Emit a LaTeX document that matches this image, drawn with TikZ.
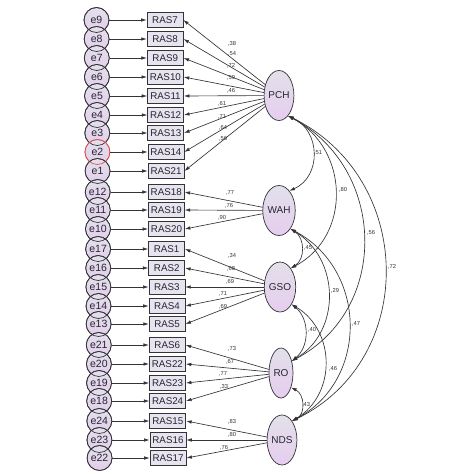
\documentclass[tikz,border=0pt]{standalone}
\usepackage{fontspec}
\setmainfont{Liberation Sans}
\usetikzlibrary{arrows.meta,shapes.geometric}
\definecolor{lineC}{HTML}{333338}
\definecolor{txtC}{HTML}{26262F}
\definecolor{boxC}{HTML}{E7E3EF}
\definecolor{errTop}{HTML}{E4E0EC}
\definecolor{errBot}{HTML}{E2CDEB}
\definecolor{latTop}{HTML}{E2E0EA}
\definecolor{latBot}{HTML}{E6CDEE}
\definecolor{labC}{HTML}{333333}
\definecolor{redC}{HTML}{D9534F}
\begin{document}
\begin{tikzpicture}[x=1pt,y=1pt,
  err/.style={circle, draw=lineC, line width=0.7pt, minimum size=25pt, inner sep=0pt,
    top color=errTop, bottom color=errBot, text=txtC, font=\fontsize{10.5}{12}\selectfont},
  errred/.style={err, draw=redC},
  obs/.style={rectangle, draw=lineC, line width=0.7pt, minimum width=36pt, minimum height=14.5pt,
    inner sep=0pt, fill=boxC, text=txtC, font=\fontsize{9.8}{11}\selectfont},
  lat/.style={ellipse, draw=lineC, line width=0.7pt, minimum width=24pt, minimum height=50pt,
    inner sep=0pt, top color=latTop, bottom color=latBot, text=txtC, font=\fontsize{10}{12}\selectfont},
  arr/.style={-{Latex[length=5.5pt,width=3.5pt]}, line width=0.65pt, draw=lineC},
  corr/.style={{Latex[length=5.5pt,width=3.5pt]}-{Latex[length=5.5pt,width=3.5pt]}, line width=0.65pt, draw=lineC},
  lab/.style={font=\fontsize{5.8}{6}\selectfont, inner sep=0pt, text=labC}]
\useasboundingbox (0,0) rectangle (474,-474);
\fill[white] (0,0) rectangle (474,-474);

% observed variables and their errors
\foreach \e/\r/\y/\s in {e9/RAS7/20/err, e8/RAS8/39/err, e7/RAS9/58/err, e6/RAS10/77/err,
  e5/RAS11/96/err, e4/RAS12/115/err, e3/RAS13/133/err, e2/RAS14/152/errred, e1/RAS21/171/err,
  e12/RAS18/192/err, e11/RAS19/210/err, e10/RAS20/229/err,
  e17/RAS1/249/err, e16/RAS2/268/err, e15/RAS3/287/err, e14/RAS4/306/err, e13/RAS5/324/err,
  e21/RAS6/345/err, e20/RAS22/364/err, e19/RAS23/383/err, e18/RAS24/401/err,
  e24/RAS15/421/err, e23/RAS16/440/err, e22/RAS17/458/err}{
  \pgfmathsetmacro\dx{0.007*(\y-20)}
  \node[\s] (\e) at (96.5+\dx,-\y) {\e};
  \node[obs] (\r) at (165+\dx,-\y) {\r};
}
% outlines again so that overlapping circles both show
\foreach \e/\c in {e9/lineC, e8/lineC, e7/lineC, e6/lineC, e5/lineC, e4/lineC, e3/lineC,
  e2/redC, e1/lineC, e12/lineC, e11/lineC, e10/lineC, e17/lineC, e16/lineC, e15/lineC,
  e14/lineC, e13/lineC, e21/lineC, e20/lineC, e19/lineC, e18/lineC, e24/lineC, e23/lineC, e22/lineC}{
  \draw[\c, line width=0.7pt] (\e.center) circle (12.5pt);
}
\foreach \e/\r in {e9/RAS7, e8/RAS8, e7/RAS9, e6/RAS10, e5/RAS11, e4/RAS12, e3/RAS13,
  e2/RAS14, e1/RAS21, e12/RAS18, e11/RAS19, e10/RAS20, e17/RAS1, e16/RAS2, e15/RAS3,
  e14/RAS4, e13/RAS5, e21/RAS6, e20/RAS22, e19/RAS23, e18/RAS24, e24/RAS15, e23/RAS16, e22/RAS17}{
  \draw[arr] (\e) -- (\r);
}

% latent variables
\node[lat] (PCH) at (279,-95.5) {PCH};
\node[lat] (WAH) at (279,-210.5) {WAH};
\node[lat] (GSO) at (280,-287) {GSO};
\node[lat] (RO) at (281,-373) {RO};
\node[lat] (NDS) at (282,-440) {NDS};

% loadings
\foreach \r in {RAS7,RAS8,RAS9,RAS10,RAS11,RAS12,RAS13,RAS14,RAS21}{\draw[arr] (PCH) -- (\r.east);}
\foreach \r in {RAS18,RAS19,RAS20}{\draw[arr] (WAH) -- (\r.east);}
\foreach \r in {RAS1,RAS2,RAS3,RAS4,RAS5}{\draw[arr] (GSO) -- (\r.east);}
\foreach \r in {RAS6,RAS22,RAS23,RAS24}{\draw[arr] (RO) -- (\r.east);}
\foreach \r in {RAS15,RAS16,RAS17}{\draw[arr] (NDS) -- (\r.east);}

\node[lab] (l7) at (232,-44) {,38};
\node[lab] (l8) at (232,-54) {,54};
\node[lab] (l9) at (231,-66) {,72};
\node[lab] (l10) at (231,-78) {,59};
\node[lab] (l11) at (231,-91) {,46};
\node[lab] (l12) at (222,-104) {,61};
\node[lab] (l13) at (222,-117) {,71};
\node[lab] (l14) at (223,-128) {,64};
\node[lab] (l21) at (223,-139) {,56};
\node[lab] (l18) at (230,-193) {,77};
\node[lab] (l19) at (229,-206) {,76};
\node[lab] (l20) at (222,-218) {,90};
\node[lab] (l1) at (232,-256) {,34};
\node[lab] (l2) at (231,-269) {,68};
\node[lab] (l3) at (230,-282) {,69};
\node[lab] (l4) at (223,-294) {,71};
\node[lab] (l5) at (223,-307) {,69};
\node[lab] (l6) at (232,-349) {,73};
\node[lab] (l22) at (230,-362) {,67};
\node[lab] (l23) at (223,-374) {,77};
\node[lab] (l24) at (224,-387) {,33};
\node[lab] (l15) at (232,-422) {,83};
\node[lab] (l16) at (232,-435) {,80};
\node[lab] (l17) at (224,-448) {,76};

% correlations
\draw[corr] (PCH.-66) to[out=-24,in=24,looseness=1.21] (WAH.62);
\draw[corr] (PCH.-66) to[out=-28,in=28,looseness=1.16] (GSO.60);
\draw[corr] (PCH.-66) to[out=-28,in=28,looseness=1.16] (RO.48);
\draw[corr] (PCH.-66) to[out=-26,in=26,looseness=1.18] (NDS.62);
\draw[corr] (WAH.-58) to[out=-32,in=32,looseness=1.11] (GSO.60);
\draw[corr] (WAH.-58) to[out=-31,in=31,looseness=1.12] (RO.48);
\draw[corr] (WAH.-58) to[out=-28,in=28,looseness=1.16] (NDS.62);
\draw[corr] (GSO.-56) to[out=-39,in=39,looseness=1.04] (RO.48);
\draw[corr] (GSO.-56) to[out=-31,in=31,looseness=1.13] (NDS.62);
\draw[corr] (RO.-55) to[out=-27,in=27,looseness=1.17] (NDS.62);

\node[lab] (c1) at (318,-153) {,51};
\node[lab] (c2) at (343,-190) {,80};
\node[lab] (c3) at (371,-233) {,56};
\node[lab] (c4) at (392,-267) {,72};
\node[lab] (c5) at (308,-248) {,45};
\node[lab] (c6) at (335,-291) {,29};
\node[lab] (c7) at (356,-324) {,47};
\node[lab] (c8) at (312,-330) {,40};
\node[lab] (c9) at (333,-369) {,46};
\node[lab] (c10) at (306,-405) {,43};
\end{tikzpicture}
\end{document}
